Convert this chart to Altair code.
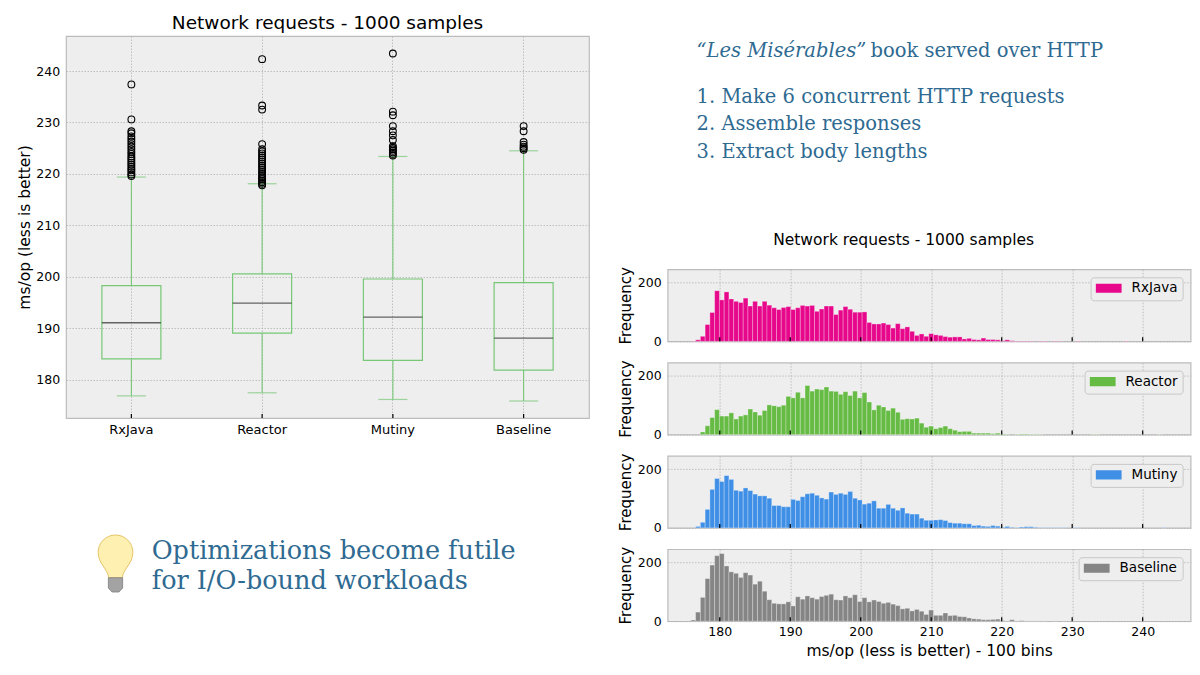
import altair as alt
import pandas as pd

# ---------------- data ----------------
CATEGORIES = ["RxJava", "Reactor", "Mutiny", "Baseline"]
WHISKER_LOW = [176.9, 177.5, 176.2, 175.9]
Q1 = [184.1, 189.1, 183.8, 181.9]
MEDIAN = [191.1, 194.9, 192.2, 188.1]
Q3 = [198.3, 200.6, 199.6, 198.9]
WHISKER_HIGH = [219.4, 218.1, 223.4, 224.5]

OUTLIERS_RXJAVA = [219.6, 219.9, 220.3, 220.7, 221.0, 221.4, 221.8, 222.2, 222.6, 223.0,
                   223.4, 223.9, 224.3, 224.8, 225.3, 225.8, 226.3, 226.8, 227.3, 227.9,
                   228.3, 230.6, 237.4]
OUTLIERS_REACTOR = [217.8, 218.1, 218.4, 218.7, 219.0, 219.3, 219.6, 220.0, 220.4, 220.8,
                    221.2, 221.6, 222.0, 222.4, 222.8, 223.2, 223.6, 224.0, 224.4, 224.8,
                    225.8, 232.5, 233.3, 242.3]
OUTLIERS_MUTINY = [223.6, 223.9, 224.2, 224.5, 224.8, 225.1, 225.4, 226.6, 227.5, 228.3,
                   229.3, 231.4, 232.1, 243.4]
OUTLIERS_BASELINE = [224.7, 225.0, 225.3, 225.7, 226.2, 228.3, 229.3]

# 100 bins shared by all series
BIN_START = 175.9
BIN_WIDTH = 0.675
HIST_RXJAVA = [1, 5, 17, 57, 98, 172, 141, 168, 144, 136,
               132, 147, 120, 136, 120, 136, 123, 114, 108, 115,
               118, 108, 114, 122, 120, 122, 102, 110, 120, 120,
               91, 106, 118, 109, 99, 99, 100, 64, 59, 59,
               62, 57, 45, 60, 43, 49, 34, 20, 25, 17,
               26, 22, 20, 16, 14, 15, 15, 8, 10, 6,
               5, 11, 6, 6, 5, 2, 5, 2, 1, 1,
               1, 1, 0, 1, 1, 0, 1, 1, 0, 0,
               0, 1, 0, 0, 0, 0, 0, 0, 0, 0,
               0, 1, 0, 0, 0, 0, 0, 0, 0, 0]
HIST_REACTOR = [0, 0, 9, 30, 58, 85, 63, 63, 74, 53,
                63, 67, 87, 77, 66, 82, 101, 98, 95, 100,
                130, 125, 144, 125, 167, 148, 155, 153, 162, 148,
                147, 137, 146, 133, 148, 125, 143, 111, 84, 100,
                94, 82, 90, 76, 52, 54, 53, 56, 39, 25,
                29, 20, 24, 29, 20, 15, 10, 11, 11, 5,
                5, 5, 5, 3, 5, 2, 1, 0, 1, 2,
                2, 1, 1, 1, 0, 0, 0, 0, 0, 0,
                0, 0, 0, 0, 1, 1, 0, 0, 0, 0,
                0, 0, 0, 0, 0, 0, 0, 0, 1, 0]
HIST_MUTINY = [0, 5, 19, 63, 131, 168, 158, 178, 165, 128,
               125, 136, 127, 115, 109, 109, 101, 76, 76, 72,
               72, 97, 93, 106, 116, 118, 111, 102, 98, 122,
               114, 118, 114, 124, 101, 95, 81, 84, 92, 67,
               67, 80, 67, 60, 68, 50, 47, 47, 33, 26,
               26, 27, 28, 25, 18, 16, 16, 14, 14, 8,
               9, 6, 5, 8, 6, 2, 5, 2, 1, 3,
               4, 4, 2, 1, 1, 1, 1, 1, 1, 0,
               1, 1, 0, 0, 0, 0, 0, 0, 0, 0,
               0, 0, 0, 0, 0, 0, 0, 0, 0, 1]
HIST_BASELINE = [4, 31, 81, 145, 191, 223, 230, 188, 168, 163,
                 149, 165, 157, 126, 136, 102, 73, 61, 59, 59,
                 66, 52, 83, 75, 86, 80, 75, 84, 88, 92,
                 73, 72, 86, 80, 90, 67, 80, 66, 72, 67,
                 61, 64, 58, 53, 42, 44, 35, 40, 34, 23,
                 38, 20, 20, 28, 19, 20, 16, 15, 11, 8,
                 7, 5, 5, 6, 7, 2, 1, 5, 1, 2,
                 1, 1, 1, 1, 1, 0, 1, 0, 1, 0,
                 0, 0, 0, 0, 0, 0, 0, 0, 0, 0,
                 0, 0, 0, 0, 0, 0, 0, 0, 0, 0]

SERIES_COLORS = ["#e6078b", "#66bb44", "#3f8fe6", "#858585"]

VALUE_TICKS = [180, 190, 200, 210, 220, 230, 240]
FREQ_TICKS = [0, 200]

TITLE_BOX = "Network requests - 1000 samples"
TITLE_HIST = "Network requests - 1000 samples"
Y_TITLE_BOX = "ms/op (less is better)"
X_TITLE_HIST = "ms/op (less is better) - 100 bins"
Y_TITLE_HIST = "Frequency"
HEAD_ITALIC = "\u201cLes Mis\u00e9rables\u201d"
HEAD_REST = "book served over HTTP"
STEPS = ["1. Make 6 concurrent HTTP requests", "2. Assemble responses", "3. Extract body lengths"]
TAKEAWAY = ["Optimizations become futile", "for I/O-bound workloads"]

# ---------------- style ----------------
FONT = "DejaVu Sans"
SERIF = "DejaVu Serif"
TEXT_BLUE = "#2e6a91"
BOX_GREEN = "#77c777"
MEDIAN_COLOR = "#2a2a2a"
GRID = dict(gridColor="#b2b2b2", gridDash=[1.5, 1.5], gridWidth=0.8)
DOMAIN_V = [172.6, 246.8]

BOX_W, BOX_H = 523, 382
HIST_W, HIST_H = 523, 72
HIST_GAP = 21.3
TOP_H = 211.7

one = pd.DataFrame({"k": [0]})

# ---------------- box plot ----------------
box_df = pd.DataFrame({"cat": CATEGORIES, "lo": WHISKER_LOW, "q1": Q1,
                       "med": MEDIAN, "q3": Q3, "hi": WHISKER_HIGH})
out_rows = []
for c, vals in zip(CATEGORIES, [OUTLIERS_RXJAVA, OUTLIERS_REACTOR, OUTLIERS_MUTINY, OUTLIERS_BASELINE]):
    out_rows += [{"cat": c, "v": v} for v in vals]
out_df = pd.DataFrame(out_rows)

y_scale = alt.Scale(domain=DOMAIN_V, nice=False, zero=False)
x_scale = alt.Scale(domain=CATEGORIES, paddingInner=0, paddingOuter=0)
x_axis = alt.Axis(title=None, labelAngle=0, labelFontSize=13, labelPadding=5, ticks=False,
                  domain=False, grid=True, bandPosition=0.5, **GRID)
y_axis = alt.Axis(title=Y_TITLE_BOX, values=VALUE_TICKS, labelFontSize=12.5, labelPadding=6.4,
                  ticks=False, domain=False, grid=True, titleFontSize=15.5, titlePadding=3.4, **GRID)
X = alt.X("cat:N", scale=x_scale, axis=x_axis, sort=CATEGORIES)


def Y(field):
    return alt.Y(f"{field}:Q", scale=y_scale, axis=y_axis)


base = alt.Chart(box_df)
whisk_lo = base.mark_rule(color=BOX_GREEN, strokeWidth=1.1).encode(x=X, y=Y("lo"), y2="q1:Q")
whisk_hi = base.mark_rule(color=BOX_GREEN, strokeWidth=1.1).encode(x=X, y=Y("q3"), y2="hi:Q")
cap_lo = base.mark_tick(color=BOX_GREEN, size=29, thickness=1.2).encode(x=X, y=Y("lo"))
cap_hi = base.mark_tick(color=BOX_GREEN, size=29, thickness=1.2).encode(x=X, y=Y("hi"))
box = base.mark_bar(size=59, color=BOX_GREEN, fillOpacity=0, stroke=BOX_GREEN,
                    strokeWidth=1.2).encode(x=X, y=Y("q1"), y2="q3:Q")
med = base.mark_tick(color=MEDIAN_COLOR, size=59, thickness=1.3).encode(x=X, y=Y("med"))
outl = alt.Chart(out_df).mark_point(shape="circle", filled=False, size=46, color="black",
                                    strokeWidth=1.1, opacity=1).encode(x=X, y=Y("v"))
xticks_box = base.mark_rule(color="black", strokeWidth=1.2).encode(
    x=X, y=alt.value(BOX_H - 4), y2=alt.value(BOX_H))

takeaway = alt.Chart(one).mark_text(text=TAKEAWAY, align="left", baseline="alphabetic", font=SERIF,
                                    fontSize=25.5, color=TEXT_BLUE, lineHeight=29.7).encode(
    x=alt.value(85.7), y=alt.value(523.3))
GLASS = ("M -0.24 0.5 C -0.26 0.2 -0.61 0.0 -0.61 -0.39 C -0.61 -0.727 -0.337 -1.0 0 -1.0 "
         "C 0.337 -1.0 0.61 -0.727 0.61 -0.39 C 0.61 0.0 0.26 0.2 0.24 0.5 Z")
SOCKET = "M -0.25 0.5 L 0.25 0.5 L 0.25 0.86 L 0.12 1.0 L -0.12 1.0 L -0.25 0.86 Z"
bulb_glass = alt.Chart(one).mark_point(shape=GLASS, size=3249, filled=True, fill="#fdf0b0",
                                       stroke="#e6c469", strokeWidth=1, opacity=1).encode(
    x=alt.value(49.5), y=alt.value(527.5))
bulb_socket = alt.Chart(one).mark_point(shape=SOCKET, size=3249, filled=True, fill="#a3a3a3",
                                        stroke="#7d7d7d", strokeWidth=0.8, opacity=1).encode(
    x=alt.value(49.5), y=alt.value(527.5))

left = alt.layer(whisk_lo, whisk_hi, cap_lo, cap_hi, box, med, outl, xticks_box,
                 takeaway, bulb_glass, bulb_socket).properties(
    width=BOX_W, height=BOX_H,
    title=alt.TitleParams(TITLE_BOX, fontSize=18.5, font=FONT, fontWeight="normal",
                          color="black", offset=4, anchor="middle"))

# ---------------- right column ----------------
head1 = alt.Chart(one).mark_text(text=HEAD_ITALIC, align="left", baseline="alphabetic", font=SERIF,
                                 fontStyle="italic", fontSize=19.5, color=TEXT_BLUE).encode(
    x=alt.value(29), y=alt.value(20.7))
head2 = alt.Chart(one).mark_text(text=HEAD_REST, align="left", baseline="alphabetic", font=SERIF,
                                 fontSize=19.5, color=TEXT_BLUE).encode(
    x=alt.value(203), y=alt.value(20.7))
steps = alt.Chart(one).mark_text(text=STEPS, align="left", baseline="alphabetic", font=SERIF,
                                 fontSize=19.5, color=TEXT_BLUE, lineHeight=27.2).encode(
    x=alt.value(29), y=alt.value(67.3))
hist_title = alt.Chart(one).mark_text(text=TITLE_HIST, align="center", baseline="middle", font=FONT,
                                      fontSize=15.5, color="black").encode(
    x=alt.value(236), y=alt.value(204))
top_text = alt.layer(head1, head2, steps, hist_title).properties(
    width=HIST_W, height=TOP_H, view=alt.ViewBackground(fillOpacity=0, strokeOpacity=0))

edges_lo = [BIN_START + BIN_WIDTH * i for i in range(100)]
edges_hi = [BIN_START + BIN_WIDTH * (i + 1) for i in range(100)]
x_hist_scale = alt.Scale(domain=DOMAIN_V, nice=False, zero=False)
y_hist_scale = alt.Scale(domain=[0, 245], nice=False, zero=True)
RECT = "M -1 -0.35 L 1 -0.35 L 1 0.35 L -1 0.35 Z"


def panel(name, counts, color, bottom):
    df = pd.DataFrame({"lo": edges_lo, "hi": edges_hi, "count": counts, "series": name})
    df = df[df["count"] > 0].copy()
    df["floor"] = 0
    if bottom:
        xa = alt.Axis(title=X_TITLE_HIST, values=VALUE_TICKS, labelFontSize=12.5, labelPadding=4.7,
                      ticks=False, domain=False, grid=True, titleFontSize=15.5, titlePadding=4.8,
                      **GRID)
    else:
        xa = alt.Axis(title=None, values=VALUE_TICKS, labels=False, ticks=False, domain=False,
                      grid=True, **GRID)
    ya = alt.Axis(title=Y_TITLE_HIST, values=FREQ_TICKS, labelFontSize=12.5, labelPadding=6.4,
                  ticks=False, domain=False, grid=True, titleFontSize=15, titlePadding=4.1, **GRID)
    bars = alt.Chart(df).mark_bar(stroke="white", strokeWidth=0.4, strokeOpacity=0.7, opacity=1).encode(
        x=alt.X("lo:Q", scale=x_hist_scale, axis=xa),
        x2="hi:Q",
        y=alt.Y("count:Q", scale=y_hist_scale, axis=ya),
        y2="floor:Q",
        color=alt.Color("series:N", scale=alt.Scale(domain=[name], range=[color]),
                        legend=alt.Legend(title=None, orient="top-right", offset=8, padding=5,
                                          clipHeight=12, symbolType=RECT, symbolSize=676,
                                          symbolStrokeWidth=0, symbolOpacity=1, labelOffset=10,
                                          labelFontSize=13.5, labelFont=FONT, labelColor="black",
                                          fillColor="#eeeeee", strokeColor="#c8c8c8",
                                          cornerRadius=3)))
    tk = alt.Chart(pd.DataFrame({"v": VALUE_TICKS})).mark_rule(color="black", strokeWidth=1.2).encode(
        x=alt.X("v:Q", scale=x_hist_scale), y=alt.value(HIST_H - 4), y2=alt.value(HIST_H))
    return alt.layer(bars, tk).properties(width=HIST_W, height=HIST_H)


panels = [panel(n, c, col, i == 3) for i, (n, c, col) in enumerate(
    zip(CATEGORIES, [HIST_RXJAVA, HIST_REACTOR, HIST_MUTINY, HIST_BASELINE], SERIES_COLORS))]

right = alt.vconcat(top_text, *panels, spacing=HIST_GAP, bounds="flush").resolve_scale(
    color="independent", x="independent", y="independent").resolve_legend(color="independent")

chart = alt.hconcat(left, right, spacing=27.6,
                    padding={"left": 8, "top": 4, "right": 0, "bottom": 0}).configure(
    background="white", font=FONT).configure_axis(
    labelFont=FONT, titleFont=FONT, labelColor="black", titleColor="black",
    titleFontWeight="normal").configure_view(fill="#eeeeee", stroke="#bcbcbc", strokeWidth=1.2)

chart.save("out.html", embed_options={"renderer": "svg", "actions": False})
